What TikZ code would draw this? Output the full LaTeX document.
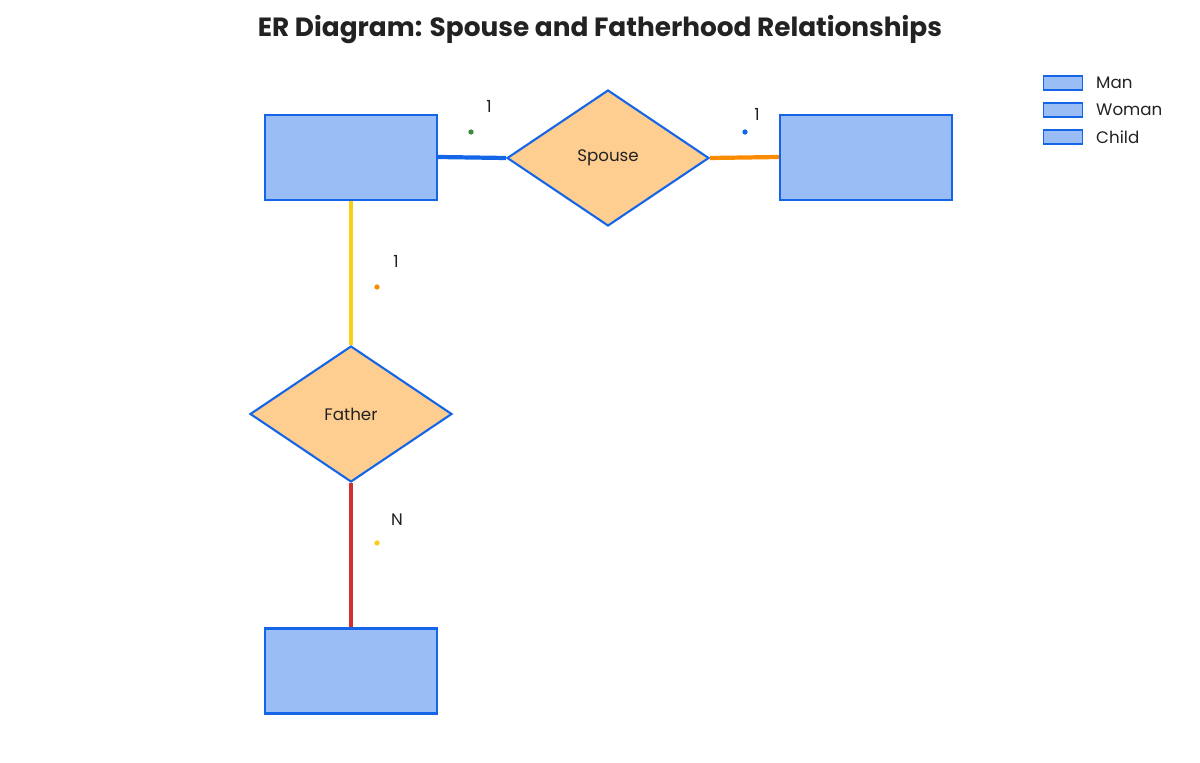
\documentclass[tikz,border=0pt]{standalone}
\usepackage{fontspec}
\setmainfont{Poppins}
\usetikzlibrary{shapes.geometric}
\definecolor{entfill}{HTML}{9BBDF5}
\definecolor{entline}{HTML}{1565E8}
\definecolor{relfill}{HTML}{FECE91}
\definecolor{lorange}{HTML}{FB8C00}
\definecolor{lyellow}{HTML}{F9CE14}
\definecolor{lred}{HTML}{D03030}
\definecolor{lgreen}{HTML}{3C8C3C}
\definecolor{txt}{HTML}{222222}
\tikzset{
	entity/.style={draw=entline,fill=entfill,line width=1.2pt,minimum width=3.44cm,minimum height=1.7cm,inner sep=0},
	relation/.style={diamond,draw=entline,fill=relfill,line width=1.2pt,minimum width=4.04cm,minimum height=2.72cm,inner sep=0,aspect=1.5,font=\fontsize{9.5}{11}\selectfont,text=txt},
	link/.style={line width=2.4pt},
	card/.style={font=\fontsize{9.5}{11}\selectfont,text=txt},
	dot/.style={circle,inner sep=0,minimum size=3pt},
	legbox/.style={draw=entline,fill=entfill,line width=1pt,minimum width=0.78cm,minimum height=0.28cm,inner sep=0},
	legtext/.style={anchor=west,font=\fontsize{9.5}{11}\selectfont,text=txt}
}
\begin{document}
\begin{tikzpicture}[x=0.02cm,y=-0.02cm]
	\useasboundingbox (0,0) rectangle (1200,763);

	\node [font=\bfseries\fontsize{15}{18}\selectfont,text=txt] (title) at (600,30) {ER Diagram: Spouse and Fatherhood Relationships};

	% entities and relationships
	\node [entity] (man) at (351,157.5) {};
	\node [entity] (woman) at (866,157.5) {};
	\node [entity] (child) at (351,671) {};
	\node [relation] (spouse) at (608,158) {Spouse};
	\node [relation] (father) at (351,414) {Father};

	% connectors
	\draw [link,entline] (man.east |- 0,157) -- (spouse.west);
	\draw [link,lorange] (spouse.east) -- (woman.west |- 0,157);
	\draw [link,lyellow] (man.south) -- (father.north);
	\draw [link,lred] (father.south) -- (child.north);

	% cardinalities
	\node [card] (c1) at (489,106) {1};
	\node [dot,fill=lgreen] (d1) at (471,132) {};
	\node [card] (c2) at (757,114) {1};
	\node [dot,fill=entline] (d2) at (745,132) {};
	\node [card] (c3) at (396,261) {1};
	\node [dot,fill=lorange] (d3) at (377,287) {};
	\node [card] (c4) at (397,520) {N};
	\node [dot,fill=lyellow] (d4) at (377,543) {};

	% legend
	\node [legbox] (lman) at (1063,83) {};
	\node [legtext] (tman) at (1090,83) {Man};
	\node [legbox] (lwoman) at (1063,110) {};
	\node [legtext] (twoman) at (1090,110) {Woman};
	\node [legbox] (lchild) at (1063,137) {};
	\node [legtext] (tchild) at (1090,137) {Child};
\end{tikzpicture}
\end{document}
